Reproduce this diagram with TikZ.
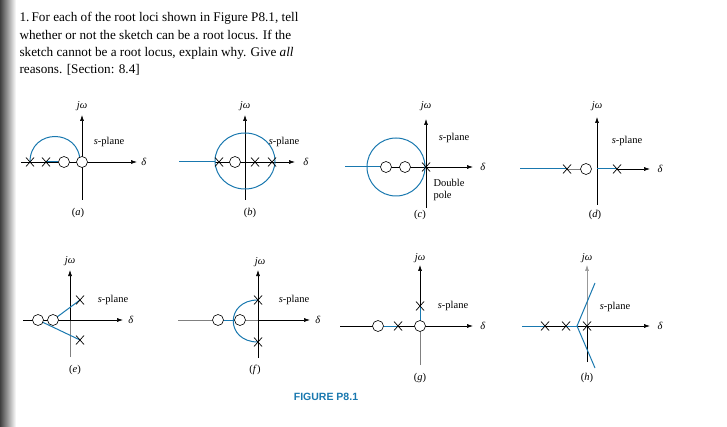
\documentclass[tikz,border=0pt]{standalone}
\usepackage{fontspec}
\setmainfont{Liberation Serif}
\newfontfamily\figfont{Liberation Sans}
\usetikzlibrary{arrows.meta}
\definecolor{lb}{RGB}{25,120,175}
\tikzset{
  ax/.style={line width=0.6pt,-{Latex[length=6pt,width=4pt]}},
  vax/.style={line width=0.6pt},
  loc/.style={lb,line width=1pt},
  zer/.style={circle,draw,fill=white,minimum size=11pt,inner sep=0pt,line width=0.6pt},
  lbl/.style={font=\fontsize{10.5}{11.5}\selectfont},
}
\newcommand{\pX}[2]{\draw[line width=0.7pt] (#1-4,#2-4.5) -- (#1+4,#2+4.5) (#1-4,#2+4.5) -- (#1+4,#2-4.5);}
\newcommand{\jw}{\textit{jω}}
\newcommand{\spl}{\textit{s}-plane}
\begin{document}
\begin{tikzpicture}[x=1pt,y=-1pt]
\useasboundingbox (0,0) rectangle (727,427);
\shade[left color=black!75,right color=white] (0,0) rectangle (16,427);
\node[anchor=west,align=left,font=\fontsize{13.2}{17.3}\selectfont] (txt) at (16,44) {1.\,For each of the root loci shown in Figure P8.1, tell\\whether or not the sketch can be a root locus. If the\\sketch cannot be a root locus, explain why. Give \textit{all}\\reasons. [Section: 8.4]};
% (a)
\draw[vax] (82,200) -- (82,162);
\draw[ax] (82,162) -- (82,115);
\draw[ax] (21,162) -- (137,162);
\draw[loc] (30,162) .. controls (30,128) and (80,128) .. (80,162);
\draw[loc] (46,162) -- (58,162);
\node[zer] (az1) at (64,162) {}; \node[zer] (az2) at (82,162) {};
\pX{30}{162}\pX{46}{162}
\node[lbl] (ajw) at (82,106) {\jw};
\node[lbl] (asp) at (109,142) {\spl};
\node[lbl] (ad) at (144,162) {\textit{δ}};
\node[lbl] (al) at (78,213) {(\textit{a})};
% (b)
\draw[vax] (245,200) -- (245,162);
\draw[ax] (245,162) -- (245,115);
\draw[loc] (179,162) -- (215,162);
\draw[ax] (215,162) -- (295,162);
\draw[loc] (245,161) ellipse (30 and 28);
\node[zer] (bz) at (235,162) {};
\pX{219}{162}\pX{255}{162}\pX{272}{162}
\node[lbl] (bjw) at (245,106) {\jw};
\node[lbl] (bsp) at (284,142) {\spl};
\node[lbl] (bd) at (306,162) {\textit{δ}};
\node[lbl] (bl) at (250,213) {(\textit{b})};
% (c)
\draw[vax] (426,208) -- (426,167);
\draw[ax] (426,167) -- (426,119);
\draw[loc] (345,167) -- (382,167);
\draw[ax] (382,167) -- (473,167);
\draw[loc] (396,167) circle (29);
\node[zer] (cz1) at (386,167) {}; \node[zer] (cz2) at (405,167) {};
\pX{426}{167}
\node[lbl] (cjw) at (426,106) {\jw};
\node[lbl] (csp) at (454,138) {\spl};
\node[lbl] (cd) at (483,167) {\textit{δ}};
\node[lbl,align=left,anchor=north west] (cdp) at (430,176) {Double\\pole};
\node[lbl] (cl) at (420,215) {(\textit{c})};
% (d)
\draw[vax] (597,205) -- (597,169);
\draw[ax] (597,169) -- (597,117);
\draw[vax,black!50] (567,169) -- (586,169);
\draw[ax] (617,169) -- (650,169);
\draw[loc] (520,169) -- (567,169);
\draw[loc] (597,169) -- (617,169);
\node[zer] (dz) at (586,169) {};
\pX{567}{169}\pX{617}{169}
\node[lbl] (djw) at (597,106) {\jw};
\node[lbl] (dsp) at (627,141) {\spl};
\node[lbl] (dd) at (660,169) {\textit{δ}};
\node[lbl] (dl) at (595,215) {(\textit{d})};
% (e)
\draw[vax,black!50] (70,357) -- (70,320);
\draw[ax] (70,320) -- (70,270);
\draw[ax] (23,320) -- (123,320);
\draw[loc] (53,320) -- (80,300);
\draw[loc] (38,320) -- (80,340);
\node[zer] (ez1) at (38,320) {}; \node[zer] (ez2) at (53,320) {};
\pX{80}{300}\pX{80}{340}
\node[lbl] (ejw) at (70,261) {\jw};
\node[lbl] (esp) at (113,300) {\spl};
\node[lbl] (ed) at (131,320) {\textit{δ}};
\node[lbl] (el) at (75,370) {(\textit{e})};
% (f)
\draw[vax] (258,358) -- (258,320);
\draw[ax] (258,320) -- (258,270);
\draw[vax,black!50] (178,320) -- (258,320);
\draw[ax] (258,320) -- (310,320);
\draw[loc] (258,300) .. controls (225,300) and (225,342) .. (258,342);
\draw[loc] (218,320) -- (240,320);
\node[zer] (fz1) at (218,320) {}; \node[zer] (fz2) at (240,320) {};
\pX{258}{300}\pX{258}{342}
\node[lbl] (fjw) at (260,262) {\jw};
\node[lbl] (fsp) at (294,300) {\spl};
\node[lbl] (fd) at (318,320) {\textit{δ}};
\node[lbl] (fl) at (255,370) {(\textit{f})};
% (g)
\draw[vax,black!50] (420,365) -- (420,326);
\draw[ax] (420,326) -- (420,265);
\draw[ax] (340,326) -- (473,326);
\draw[loc] (378,326) -- (398,326);
\draw[loc] (420,306) -- (420,326);
\node[zer] (gz1) at (378,326) {}; \node[zer] (gz2) at (420,326) {};
\pX{398}{326}\pX{420}{306}
\node[lbl] (gjw) at (420,258) {\jw};
\node[lbl] (gsp) at (453,306) {\spl};
\node[lbl] (gd) at (483,326) {\textit{δ}};
\node[lbl] (gl) at (420,378) {(\textit{g})};
% (h)
\draw[vax] (587,362) -- (587,326);
\draw[ax,black!40] (587,326) -- (587,265);
\draw[ax] (522,326) -- (650,326);
\draw[loc] (522,326) -- (545,326);
\draw[loc] (566,326) -- (577,326);
\draw[loc] (595,283) -- (577,326) -- (595,368);
\pX{545}{326}\pX{566}{326}\pX{587}{326}
\node[lbl] (hjw) at (587,258) {\jw};
\node[lbl] (hsp) at (615,307) {\spl};
\node[lbl] (hd) at (660,326) {\textit{δ}};
\node[lbl] (hl) at (587,378) {(\textit{h})};
\node[lb,font=\figfont\bfseries\fontsize{10.5}{12}\selectfont] (fig) at (326,397) {FIGURE P8.1};
\end{tikzpicture}
\end{document}
